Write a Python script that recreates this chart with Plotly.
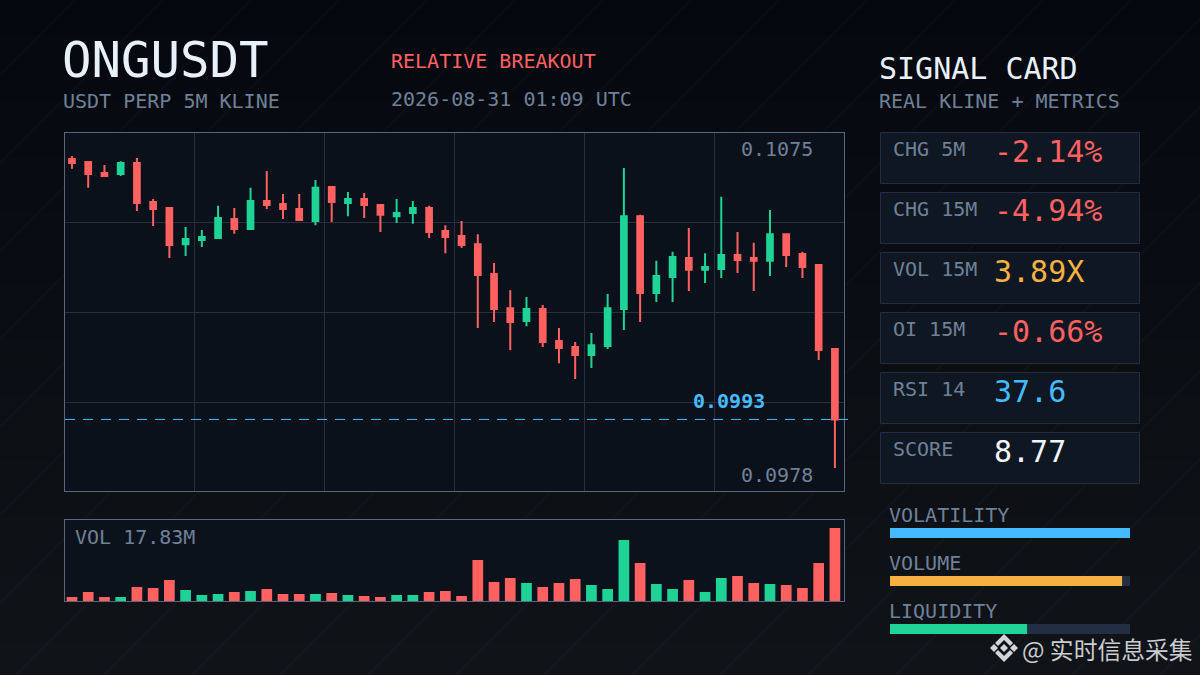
import plotly.graph_objects as go

# candle values, one entry per 5m bar
opens = [0.10741, 0.10731, 0.10697, 0.10694, 0.10728, 0.10607, 0.10588, 0.10476, 0.10489, 0.10495,
         0.10554, 0.10523, 0.10610, 0.10601, 0.10585, 0.10548, 0.10654, 0.10604, 0.10616, 0.10598,
         0.10563, 0.10573, 0.10588, 0.10517, 0.10501, 0.10476, 0.10383, 0.10277, 0.10237, 0.10274,
         0.10175, 0.10156, 0.10131, 0.10159, 0.10274, 0.10563, 0.10324, 0.10374, 0.10433, 0.10396,
         0.10399, 0.10442, 0.10433, 0.10424, 0.10507, 0.10445, 0.10411, 0.10150]
highs = [0.10750, 0.10734, 0.10722, 0.10734, 0.10744, 0.10616, 0.10591, 0.10529, 0.10520, 0.10595,
         0.10588, 0.10651, 0.10703, 0.10632, 0.10632, 0.10675, 0.10657, 0.10638, 0.10635, 0.10601,
         0.10616, 0.10610, 0.10595, 0.10535, 0.10548, 0.10507, 0.10417, 0.10333, 0.10312, 0.10287,
         0.10215, 0.10172, 0.10200, 0.10321, 0.10713, 0.10567, 0.10424, 0.10452, 0.10526, 0.10448,
         0.10623, 0.10514, 0.10480, 0.10582, 0.10507, 0.10452, 0.10411, 0.10153]
lows = [0.10710, 0.10651, 0.10688, 0.10688, 0.10579, 0.10532, 0.10433, 0.10439, 0.10467, 0.10495,
        0.10508, 0.10520, 0.10585, 0.10554, 0.10548, 0.10535, 0.10545, 0.10563, 0.10557, 0.10514,
        0.10542, 0.10539, 0.10495, 0.10448, 0.10464, 0.10215, 0.10234, 0.10147, 0.10221, 0.10156,
        0.10106, 0.10057, 0.10091, 0.10150, 0.10209, 0.10234, 0.10296, 0.10296, 0.10330, 0.10355,
        0.10371, 0.10386, 0.10330, 0.10377, 0.10405, 0.10371, 0.10116, 0.09780]
closes = [0.10728, 0.10694, 0.10688, 0.10728, 0.10604, 0.10585, 0.10473, 0.10492, 0.10498, 0.10557,
          0.10523, 0.10610, 0.10598, 0.10585, 0.10551, 0.10651, 0.10607, 0.10616, 0.10598, 0.10567,
          0.10573, 0.10588, 0.10514, 0.10498, 0.10473, 0.10380, 0.10274, 0.10234, 0.10274, 0.10172,
          0.10153, 0.10131, 0.10162, 0.10277, 0.10563, 0.10324, 0.10377, 0.10436, 0.10396, 0.10405,
          0.10442, 0.10427, 0.10424, 0.10507, 0.10442, 0.10405, 0.10147, 0.09931]
volumes = [0.98, 2.20, 0.98, 0.98, 3.42, 3.18, 5.13, 2.69, 1.47, 1.71,
           2.20, 2.44, 2.93, 1.71, 1.71, 1.71, 1.95, 1.47, 1.22, 0.98,
           1.47, 1.47, 2.20, 2.44, 1.22, 10.01, 4.64, 5.62, 4.40, 3.42,
           4.40, 5.37, 3.91, 2.93, 14.90, 9.28, 4.15, 2.93, 5.13, 2.20,
           5.62, 6.11, 4.40, 4.15, 3.91, 3.18, 9.28, 17.83]

card_labels = ["CHG 5M", "CHG 15M", "VOL 15M", "OI 15M", "RSI 14", "SCORE"]
card_values = ["-2.14%", "-4.94%", "3.89X", "-0.66%", "37.6", "8.77"]
meter_names = ["VOLATILITY", "VOLUME", "LIQUIDITY"]
meter_values = [100, 96.7, 57.1]

RED = "#ff6060"
GREEN = "#1fd396"
BLUE = "#45bbff"
AMBER = "#f6b140"
WHITE = "#e8f1fa"
GREY = "#6f8197"
card_colors = [RED, RED, AMBER, RED, BLUE, "#f0f5fa"]
meter_colors = [BLUE, AMBER, GREEN]
MONO = "DejaVu Sans Mono"


def px(x):
    return x / 1200


def py(y):
    return 1 - y / 675


def label(x, y, text, size=20, color=GREY, font=MONO, weight=400):
    return dict(xref="paper", yref="paper", x=px(x), y=py(y), text=text, showarrow=False,
                xanchor="left", yanchor="middle", align="left", borderpad=0, borderwidth=0,
                font=dict(family=font, size=size, color=color, weight=weight))


def box(x0, y0, x1, y1, fill, edge=None, width=1, layer="below"):
    line = dict(color=edge, width=width) if edge else dict(width=0)
    return dict(type="rect", xref="paper", yref="paper", x0=px(x0), x1=px(x1), y0=py(y0), y1=py(y1),
                fillcolor=fill, line=line, layer=layer)


def poly(points, color):
    d = "M" + " L".join(f"{px(a):.5f},{py(b):.5f}" for a, b in points) + " Z"
    return dict(type="path", xref="paper", yref="paper", path=d, fillcolor=color, line=dict(width=0), layer="above")


shapes = []

# background gradient in strips
top_rgb = (5, 8, 15)
bot_rgb = (16, 19, 23)
n_strips = 60
for i in range(n_strips):
    t = i / (n_strips - 1)
    c = [round(top_rgb[k] + (bot_rgb[k] - top_rgb[k]) * t) for k in range(3)]
    shapes.append(box(0, 675 * i / n_strips, 1200, 675 * (i + 1) / n_strips + 1, f"rgb({c[0]},{c[1]},{c[2]})"))

# faint diagonal hatching
for start in range(-600, 1900, 88):
    shapes.append(dict(type="line", xref="paper", yref="paper", x0=px(start), y0=py(675), x1=px(start + 675), y1=py(0),
                       line=dict(color="rgba(130,150,180,0.08)", width=1), layer="below"))

# panels
shapes.append(box(65, 133, 844, 491, "#0b111b"))
shapes.append(box(65, 520, 844, 601, "#0c121b"))
for i in range(len(card_labels)):
    shapes.append(box(880.5, 132.5 + 60 * i, 1139.5, 183.5 + 60 * i, "#0f1723", "#222d3f", 1))

# last price line, runs a bit past the panel edge
shapes.append(dict(type="line", xref="paper", yref="y", x0=px(65), x1=px(848), y0=closes[-1], y1=closes[-1],
                   line=dict(color=BLUE, width=1, dash="10px,8px"), layer="above"))

# binance mark on the watermark
mark = "#d3d6d9"
cx, cy = 1004, 648
shapes.append(poly([(cx, cy - 4), (cx + 4, cy), (cx, cy + 4), (cx - 4, cy)], mark))
shapes.append(poly([(cx - 14, cy), (cx - 10, cy - 4), (cx - 6, cy), (cx - 10, cy + 4)], mark))
shapes.append(poly([(cx + 14, cy), (cx + 10, cy - 4), (cx + 6, cy), (cx + 10, cy + 4)], mark))
shapes.append(poly([(cx, cy - 14), (cx + 9, cy - 5), (cx + 6, cy - 2), (cx, cy - 8), (cx - 6, cy - 2), (cx - 9, cy - 5)], mark))
shapes.append(poly([(cx, cy + 14), (cx + 9, cy + 5), (cx + 6, cy + 2), (cx, cy + 8), (cx - 6, cy + 2), (cx - 9, cy + 5)], mark))

texts = [
    label(62, 60, "ONGUSDT", 49, WHITE),
    label(63, 101, "USDT PERP 5M KLINE"),
    label(391, 61, "RELATIVE BREAKOUT", 20, RED),
    label(391, 99, "2026-08-31 01:09 UTC"),
    label(879, 68, "SIGNAL CARD", 30, WHITE),
    label(879, 101, "REAL KLINE + METRICS"),
    label(741, 149, "0.1075"),
    label(741, 475, "0.0978"),
    label(693, 401, "0.0993", 20, BLUE, weight=700),
    label(75, 537, "VOL 17.83M"),
    label(1022, 648, "@ 实时信息采集", 23.8, "#c9ccd0", "Noto Sans CJK SC"),
]
for i in range(len(card_labels)):
    texts.append(label(893, 149 + 60 * i, card_labels[i]))
    texts.append(label(994, 151 + 60 * i, card_values[i], 30, card_colors[i]))
for i in range(len(meter_names)):
    texts.append(label(889, 515 + 48 * i, meter_names[i]))

x_vals = list(range(len(opens)))
bar_colors = [GREEN if c >= o else RED for o, c in zip(opens, closes)]

fig = go.Figure()
fig.add_trace(go.Candlestick(x=x_vals, open=opens, high=highs, low=lows, close=closes,
                             xaxis="x", yaxis="y", whiskerwidth=0,
                             increasing=dict(line=dict(color=GREEN, width=2), fillcolor=GREEN),
                             decreasing=dict(line=dict(color=RED, width=2), fillcolor=RED)))
fig.add_trace(go.Bar(x=x_vals, y=volumes, xaxis="x2", yaxis="y2", marker=dict(color=bar_colors, line=dict(width=0)), width=0.66))
fig.add_trace(go.Bar(x=[100] * 3, y=meter_names, orientation="h", xaxis="x3", yaxis="y3",
                     marker=dict(color="#222e42", line=dict(width=0)), width=0.208))
fig.add_trace(go.Bar(x=meter_values, y=meter_names, orientation="h", xaxis="x3", yaxis="y3",
                     marker=dict(color=meter_colors, line=dict(width=0)), width=0.208))

x_range = [-0.43, 47.56]
price_top = 0.108215
price_bot = 0.097085
price_grid = [0.10544, 0.10264, 0.09984]
border = "#5a667c"
grid = "#282f3f"

fig.update_layout(
    width=1200, height=675, margin=dict(l=0, r=0, t=0, b=0),
    paper_bgcolor="#05080f", plot_bgcolor="rgba(0,0,0,0)",
    showlegend=False, barmode="overlay", boxgap=0.5,
    shapes=shapes, annotations=texts,
    xaxis=dict(domain=[px(65), px(844)], range=x_range, tick0=-0.473, dtick=8.01, showticklabels=False, ticks="",
               showgrid=True, gridcolor=grid, gridwidth=1, zeroline=False, rangeslider=dict(visible=False),
               showline=True, mirror=True, linecolor=border, linewidth=1, anchor="y"),
    yaxis=dict(domain=[py(491), py(133)], range=[price_bot, price_top], tickmode="array", tickvals=price_grid,
               showticklabels=False, ticks="", showgrid=True, gridcolor=grid, gridwidth=1, zeroline=False,
               showline=True, mirror=True, linecolor=border, linewidth=1, anchor="x"),
    xaxis2=dict(domain=[px(65), px(844)], range=x_range, showticklabels=False, ticks="", showgrid=False, zeroline=False,
                showline=True, mirror=True, linecolor=border, linewidth=1, anchor="y2"),
    yaxis2=dict(domain=[py(601), py(520)], range=[0, 19.78], showticklabels=False, ticks="", showgrid=False, zeroline=False,
                showline=True, mirror=True, linecolor=border, linewidth=1, anchor="x2"),
    xaxis3=dict(domain=[px(890), px(1130)], range=[0, 100], visible=False, anchor="y3"),
    yaxis3=dict(domain=[py(653), py(509)], type="category", categoryorder="array", categoryarray=meter_names,
                range=[2.5, -0.5], visible=False, anchor="x3"),
)

fig.write_html("out.html", config=dict(displayModeBar=False), post_script="document.body.style.margin='0';")
